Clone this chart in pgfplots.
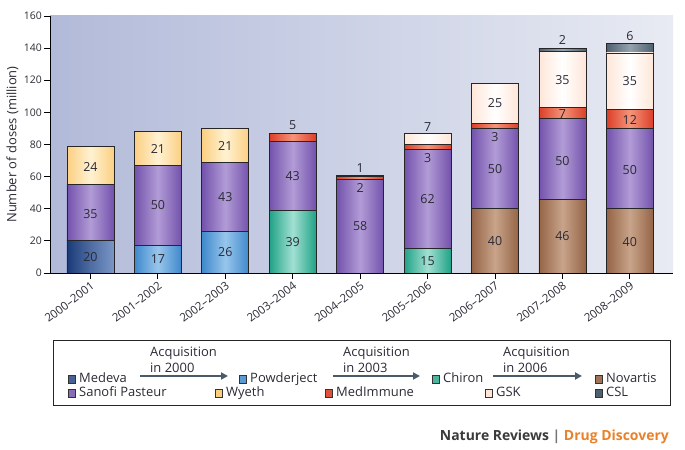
\documentclass[border=0pt]{standalone}
\usepackage{fontspec}
\setmainfont{Open Sans}
\usepackage{pgfplots}
\pgfplotsset{compat=1.18}
\usepackage{pgfplotstable}
\usetikzlibrary{arrows.meta}

\definecolor{medA}{HTML}{1A3A78}\definecolor{medB}{HTML}{7A96C6}
\definecolor{powA}{HTML}{3F88CC}\definecolor{powB}{HTML}{98C6EC}
\definecolor{chiA}{HTML}{1FA286}\definecolor{chiB}{HTML}{A2E0D2}
\definecolor{novA}{HTML}{956446}\definecolor{novB}{HTML}{C8A48A}
\definecolor{sanA}{HTML}{7352AC}\definecolor{sanB}{HTML}{B29CD6}
\definecolor{wyeA}{HTML}{FBCF82}\definecolor{wyeB}{HTML}{FFF2D2}
\definecolor{mimA}{HTML}{DC3E28}\definecolor{mimB}{HTML}{F4957A}
\definecolor{gskA}{HTML}{FFE6D8}\definecolor{gskB}{HTML}{FFFFFF}
\definecolor{cslA}{HTML}{4E6070}\definecolor{cslB}{HTML}{94A2AE}
\definecolor{txt}{HTML}{2A2A36}
\definecolor{arrowc}{HTML}{4A5A68}
\definecolor{ndorange}{HTML}{E8812A}
\definecolor{ndgrey}{HTML}{3A3A3A}
\definecolor{bgL}{HTML}{B2BAD9}
\definecolor{bgR}{HTML}{E8EBF3}

\pgfplotstableread{
x med pow chi nov san wye mim gsk csl
0 20 0  0  0  35 24 0  0  0
1 0  17 0  0  50 21 0  0  0
2 0  26 0  0  43 21 0  0  0
3 0  0  39 0  43 0  5  0  0
4 0  0  0  0  58 0  2  1  0
5 0  0  15 0  62 0  3  7  0
6 0  0  0  40 50 0  3  25 0
7 0  0  0  46 50 0  7  35 2
8 0  0  0  40 50 0  12 35 6
}\doses

\pgfplotstableread{
x y lab
0 10 20
0 37 35
0 66 24
1 8.5 17
1 42 50
1 77 21
2 13 26
2 47 43
2 79 21
3 19.5 39
3 60.5 43
3 92 5
4 29 58
4 53 2
4 65.5 1
5 7.5 15
5 46 62
5 71.5 3
5 91 7
6 20 40
6 65 50
6 84.5 3
6 105.5 25
7 23 46
7 70 50
7 99 7
7 120 35
7 145 2
8 19 40
8 64 50
8 95 12
8 119.5 35
8 147.5 6
}\labels

\pgfplotsset{
  bg/.style 2 args={left color=#1, right color=#1, middle color=#2},
  common/.style={
    at={(50bp,177bp)}, anchor=south west,
    width=623bp, height=257bp, scale only axis,
    xmin=-0.6, xmax=8.64, ymin=0, ymax=160,
  }
}

\begin{document}
\begin{tikzpicture}[x=1bp,y=1bp]
\useasboundingbox (0,0) rectangle (685,450);
% frame axis with background, ticks and labels
\begin{axis}[common,
  axis x line*=bottom, axis y line*=left,
  axis line style={-, black, line width=0.9bp},
  axis background/.style={left color=bgL, right color=bgR},
  tick align=outside, major tick length=6bp,
  tick style={black, line width=0.9bp},
  ytick={0,20,...,160},
  xtick={0,...,8},
  xticklabels={2000–2001,2001–2002,2002–2003,2003–2004,2004–2005,2005–2006,2006–2007,2007–2008,2008–2009},
  x tick label style={rotate=37, anchor=north east, inner sep=1.5bp, font=\fontsize{11.5}{13}\selectfont, text=txt},
  y tick label style={font=\fontsize{10.5}{12}\selectfont, text=txt, inner sep=2bp},
  /pgf/number format/assume math mode=true,
  ylabel={Number of doses (million)},
  ylabel style={font=\fontsize{13}{15}\selectfont, text=txt},
]
\end{axis}
% one stacked bar per axis, so that each bar gets its own shading
\foreach \k in {0,...,8}{
\pgfmathsetmacro\lo{\k-0.2}\pgfmathsetmacro\hi{\k+0.2}
\begin{axis}[common, axis lines=none,
  ybar stacked, bar width=47bp,
  restrict x to domain=\lo:\hi,
  every axis plot/.append style={draw=black!85, line width=0.8bp},
]
\addplot[left color=medA, right color=medB, middle color=medA!45!medB] table[x=x,y=med]{\doses};
\addplot[bg={powA}{powB}] table[x=x,y=pow]{\doses};
\addplot[bg={chiA}{chiB}] table[x=x,y=chi]{\doses};
\addplot[bg={novA}{novB}] table[x=x,y=nov]{\doses};
\addplot[bg={sanA}{sanB}] table[x=x,y=san]{\doses};
\addplot[bg={wyeA}{wyeB}] table[x=x,y=wye]{\doses};
\addplot[bg={mimA}{mimB}] table[x=x,y=mim]{\doses};
\addplot[bg={gskA}{gskB}] table[x=x,y=gsk]{\doses};
\addplot[bg={cslA}{cslB}] table[x=x,y=csl]{\doses};
\end{axis}
}
\begin{axis}[common, axis lines=none, clip=false]
\addplot[draw=none, nodes near coords, point meta=explicit symbolic,
  nodes near coords style={anchor=center, font=\fontsize{12.5}{14}\selectfont, text=txt}]
  table[x=x,y=y,meta=lab]{\labels};
\end{axis}

% legend box
\draw[black!85, line width=0.8bp] (53,45) rectangle (670,110);
\tikzset{sq/.style={draw=black!80, line width=0.5bp}}
\newcommand{\legsq}[4]{%
  \shadedraw[sq, left color=#3, right color=#3] (#1,#2) rectangle ++(7.5,7.5);
  \node[anchor=base west, inner sep=0, font=\fontsize{13}{15}\selectfont, text=txt] at (#1+11,#2) {#4};}
\legsq{68}{67}{medA!80}{Medeva}
\legsq{68}{53}{sanA!85}{Sanofi Pasteur}
\legsq{239}{67}{powA!85}{Powderject}
\legsq{215}{53}{wyeA}{Wyeth}
\legsq{432}{67}{chiA!80}{Chiron}
\legsq{325}{53}{mimA!90}{MedImmune}
\legsq{595}{67}{novA!90}{Novartis}
\legsq{485}{53}{gskA}{GSK}
\legsq{595}{53}{cslA}{CSL}
\foreach \xa/\xb/\yr in {140/228/2000, 333/420/2003, 493/582/2006}{
  \draw[arrowc, line width=2.2bp, -{Triangle[length=7bp, width=7bp]}] (\xa,74) -- (\xb,74);
  \node[anchor=base west, inner sep=0, font=\fontsize{13}{15}\selectfont, text=txt] at (\xa+10,93) {Acquisition};
  \node[anchor=base west, inner sep=0, font=\fontsize{13}{15}\selectfont, text=txt] at (\xa+10,77) {in \yr};
}
\node[anchor=base east, inner sep=0, font=\fontsize{14}{16}\selectfont\bfseries] at (669,9)
  {\textcolor{ndgrey}{Nature Reviews} \textcolor{ndgrey!70}{|} \textcolor{ndorange}{Drug Discovery}};
\end{tikzpicture}
\end{document}
